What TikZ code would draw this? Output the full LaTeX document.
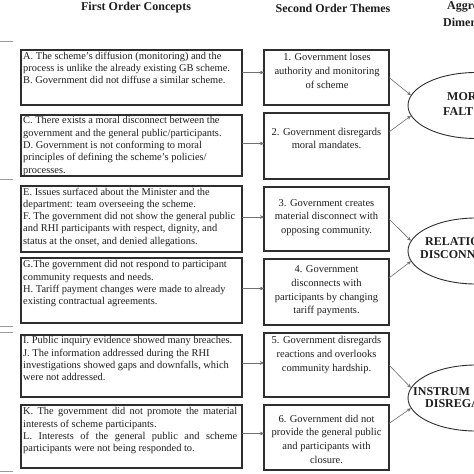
\documentclass[tikz,border=0pt]{standalone}
\usepackage{fontspec}
\setmainfont{Liberation Serif}
\usetikzlibrary{arrows.meta,shapes.geometric}
\definecolor{boxc}{HTML}{2E2E2E}
\definecolor{txtc}{HTML}{1E1E1E}
\definecolor{arrc}{HTML}{707070}
\definecolor{stubc}{HTML}{9A9A9A}
\begin{document}
\begin{tikzpicture}[x=1pt,y=-1pt,
  fbox/.style={draw=boxc,line width=1.1pt,minimum width=221pt,anchor=north west,inner sep=0pt,outer sep=0pt},
  sbox/.style={draw=boxc,line width=1.1pt,minimum width=125pt,anchor=north west,inner sep=0pt,outer sep=0pt},
  ftext/.style={anchor=north west,inner sep=0pt,align=left,text=txtc,font=\fontsize{10.4}{12.3}\selectfont},
  stext/.style={inner sep=0pt,align=center,text=txtc,font=\fontsize{10.5}{13.7}\selectfont},
  head/.style={inner sep=0pt,text=txtc,font=\fontsize{12}{14}\selectfont\bfseries},
  etext/.style={inner sep=0pt,anchor=west,text=txtc,font=\fontsize{12}{14}\selectfont\bfseries},
  dimell/.style={ellipse,draw=boxc,line width=0.9pt,minimum width=136pt,minimum height=66pt,inner sep=0pt},
  arr/.style={draw=arrc,line width=0.6pt,-{Stealth[length=4pt,width=3.6pt,fill=black]}},
  stub/.style={draw=stubc,line width=0.8pt}]
\useasboundingbox (0,0) rectangle (474,474);
\clip (0,0) rectangle (474,474);
\fill[white] (0,0) rectangle (474,474);

% headers
\node[head] (h1) at (136,8) {First Order Concepts};
\node[head] (h2) at (333,8) {Second Order Themes};
\node[head,anchor=west] (h3a) at (447,7) {Aggre};
\node[head,anchor=west] (h3b) at (443,22) {Dimen};

% left stubs (cut-off column)
\coordinate (l1) at (0,41);   \coordinate (r1) at (13,41);
\coordinate (l2) at (0,179);  \coordinate (r2) at (13,179);
\coordinate (l3) at (0,326);  \coordinate (r3) at (13,326);
\coordinate (l4) at (0,332);  \coordinate (r4) at (13,332);
\coordinate (l5) at (0,471);  \coordinate (r5) at (13,471);
\draw[stub] (l1) -- (r1);
\draw[stub] (l2) -- (r2);
\draw[stub] (l3) -- (r3);
\draw[stub] (l4) -- (r4);
\draw[stub] (l5) -- (r5);

% first order boxes
\node[fbox,minimum height=55pt] (ab) at (21,50) {};
\node[ftext] (abt) at ([shift={(2pt,-1.5pt)}]ab.north west) {A. The scheme's diffusion (monitoring) and the\\process is unlike the already existing GB scheme.\\B. Government did not diffuse a similar scheme.};

\node[fbox,minimum height=61pt] (cd) at (21,115) {};
\node[ftext] (cdt) at ([shift={(2pt,-1.5pt)}]cd.north west) {C. There exists a moral disconnect between the\\government and the general public/participants.\\D. Government is not conforming to moral\\principles of defining the scheme's policies/\\processes.};

\node[fbox,minimum height=66pt] (ef) at (21,186) {};
\node[ftext] (eft) at ([shift={(2pt,-1.5pt)}]ef.north west) {E. Issues surfaced about the Minister and the\\department: team overseeing the scheme.\\F. The government did not show the general public\\and RHI participants with respect, dignity, and\\status at the onset, and denied allegations.};

\node[fbox,minimum height=65pt] (gh) at (21,258) {};
\node[ftext] (ght) at ([shift={(2pt,-2.5pt)}]gh.north west) {G.The government did not respond to participant\\community requests and needs.\\H. Tariff payment changes were made to already\\existing contractual agreements.};

\node[fbox,minimum height=62pt] (ij) at (21,335) {};
\node[ftext] (ijt) at ([shift={(2pt,-1.5pt)}]ij.north west) {I. Public inquiry evidence showed many breaches.\\J. The information addressed during the RHI\\investigations showed gaps and downfalls, which\\were not addressed.};

\node[fbox,minimum height=63pt] (kl) at (21,405) {};
\node[ftext,text width=214pt,align=justify] (klt) at ([shift={(2pt,-2.5pt)}]kl.north west) {K. The government did not promote the material\linebreak interests of scheme participants.\\L. Interests of the general public and scheme\linebreak participants were not being responded to.};

% second order boxes
\node[sbox,minimum height=55pt] (s1) at (264,50) {};
\node[stext] (s1t) at (327,71) {1. Government loses\\authority and monitoring\\of scheme};
\node[sbox,minimum height=66pt] (s2) at (264,113) {};
\node[stext] (s2t) at (326.5,138.5) {2. Government disregards\\moral mandates.};
\node[sbox,minimum height=64pt] (s3) at (264,187) {};
\node[stext] (s3t) at (326.5,217.5) {3. Government creates\\material disconnect with\\opposing community.};
\node[sbox,minimum height=66pt] (s4) at (264,259) {};
\node[stext] (s4t) at (326.5,291) {4. Government\\disconnects with\\participants by changing\\tariff payments.};
\node[sbox,minimum height=64pt] (s5) at (264,333) {};
\node[stext] (s5t) at (326.5,355) {5. Government disregards\\reactions and overlooks\\community hardship.};
\node[sbox,minimum height=65pt] (s6) at (264,405) {};
\node[stext] (s6t) at (326.5,439) {6. Government did not\\provide the general public\\and participants with\\closure.};

% aggregate dimension ellipses
\node[dimell] (e1) at (476,105.5) {};
\node[etext] (e1a) at (447,97) {MOR};
\node[etext] (e1b) at (443,111.5) {FALT};
\node[dimell] (e2) at (476,251) {};
\node[etext] (e2a) at (425,242) {RELATIO};
\node[etext] (e2b) at (420,255) {DISCONN};
\node[dimell] (e3) at (476,398) {};
\node[etext] (e3a) at (413,392) {INSTRUM};
\node[etext] (e3b) at (425,404) {DISREGA};

% arrows first -> second order
\coordinate (a1) at ([yshift=5pt]ab.east);
\coordinate (a2) at ([yshift=2pt]cd.east);
\coordinate (a3) at ([yshift=2pt]ef.east);
\coordinate (a4) at ([yshift=2pt]gh.east);
\coordinate (a5) at ([yshift=3pt]ij.east);
\coordinate (a6) at ([yshift=3pt]kl.east);
\draw[arr] (a1) -- (a1 -| s1.west);
\draw[arr] (a2) -- (a2 -| s2.west);
\draw[arr] (a3) -- (a3 -| s3.west);
\draw[arr] (a4) -- (a4 -| s4.west);
\draw[arr] (a5) -- (a5 -| s5.west);
\draw[arr] (a6) -- (a6 -| s6.west);

% arrows second order -> dimensions
\draw[arr] (s1.east) -- (e1.171);
\draw[arr] ([yshift=14pt]s2.east) -- (e1.189);
\draw[arr] (s3.east) -- (e2.171);
\draw[arr] ([yshift=14pt]s4.east) -- (e2.189);
\draw[arr] (s5.east) -- (e3.171);
\draw[arr] ([yshift=14pt]s6.east) -- (e3.189);
\end{tikzpicture}
\end{document}
